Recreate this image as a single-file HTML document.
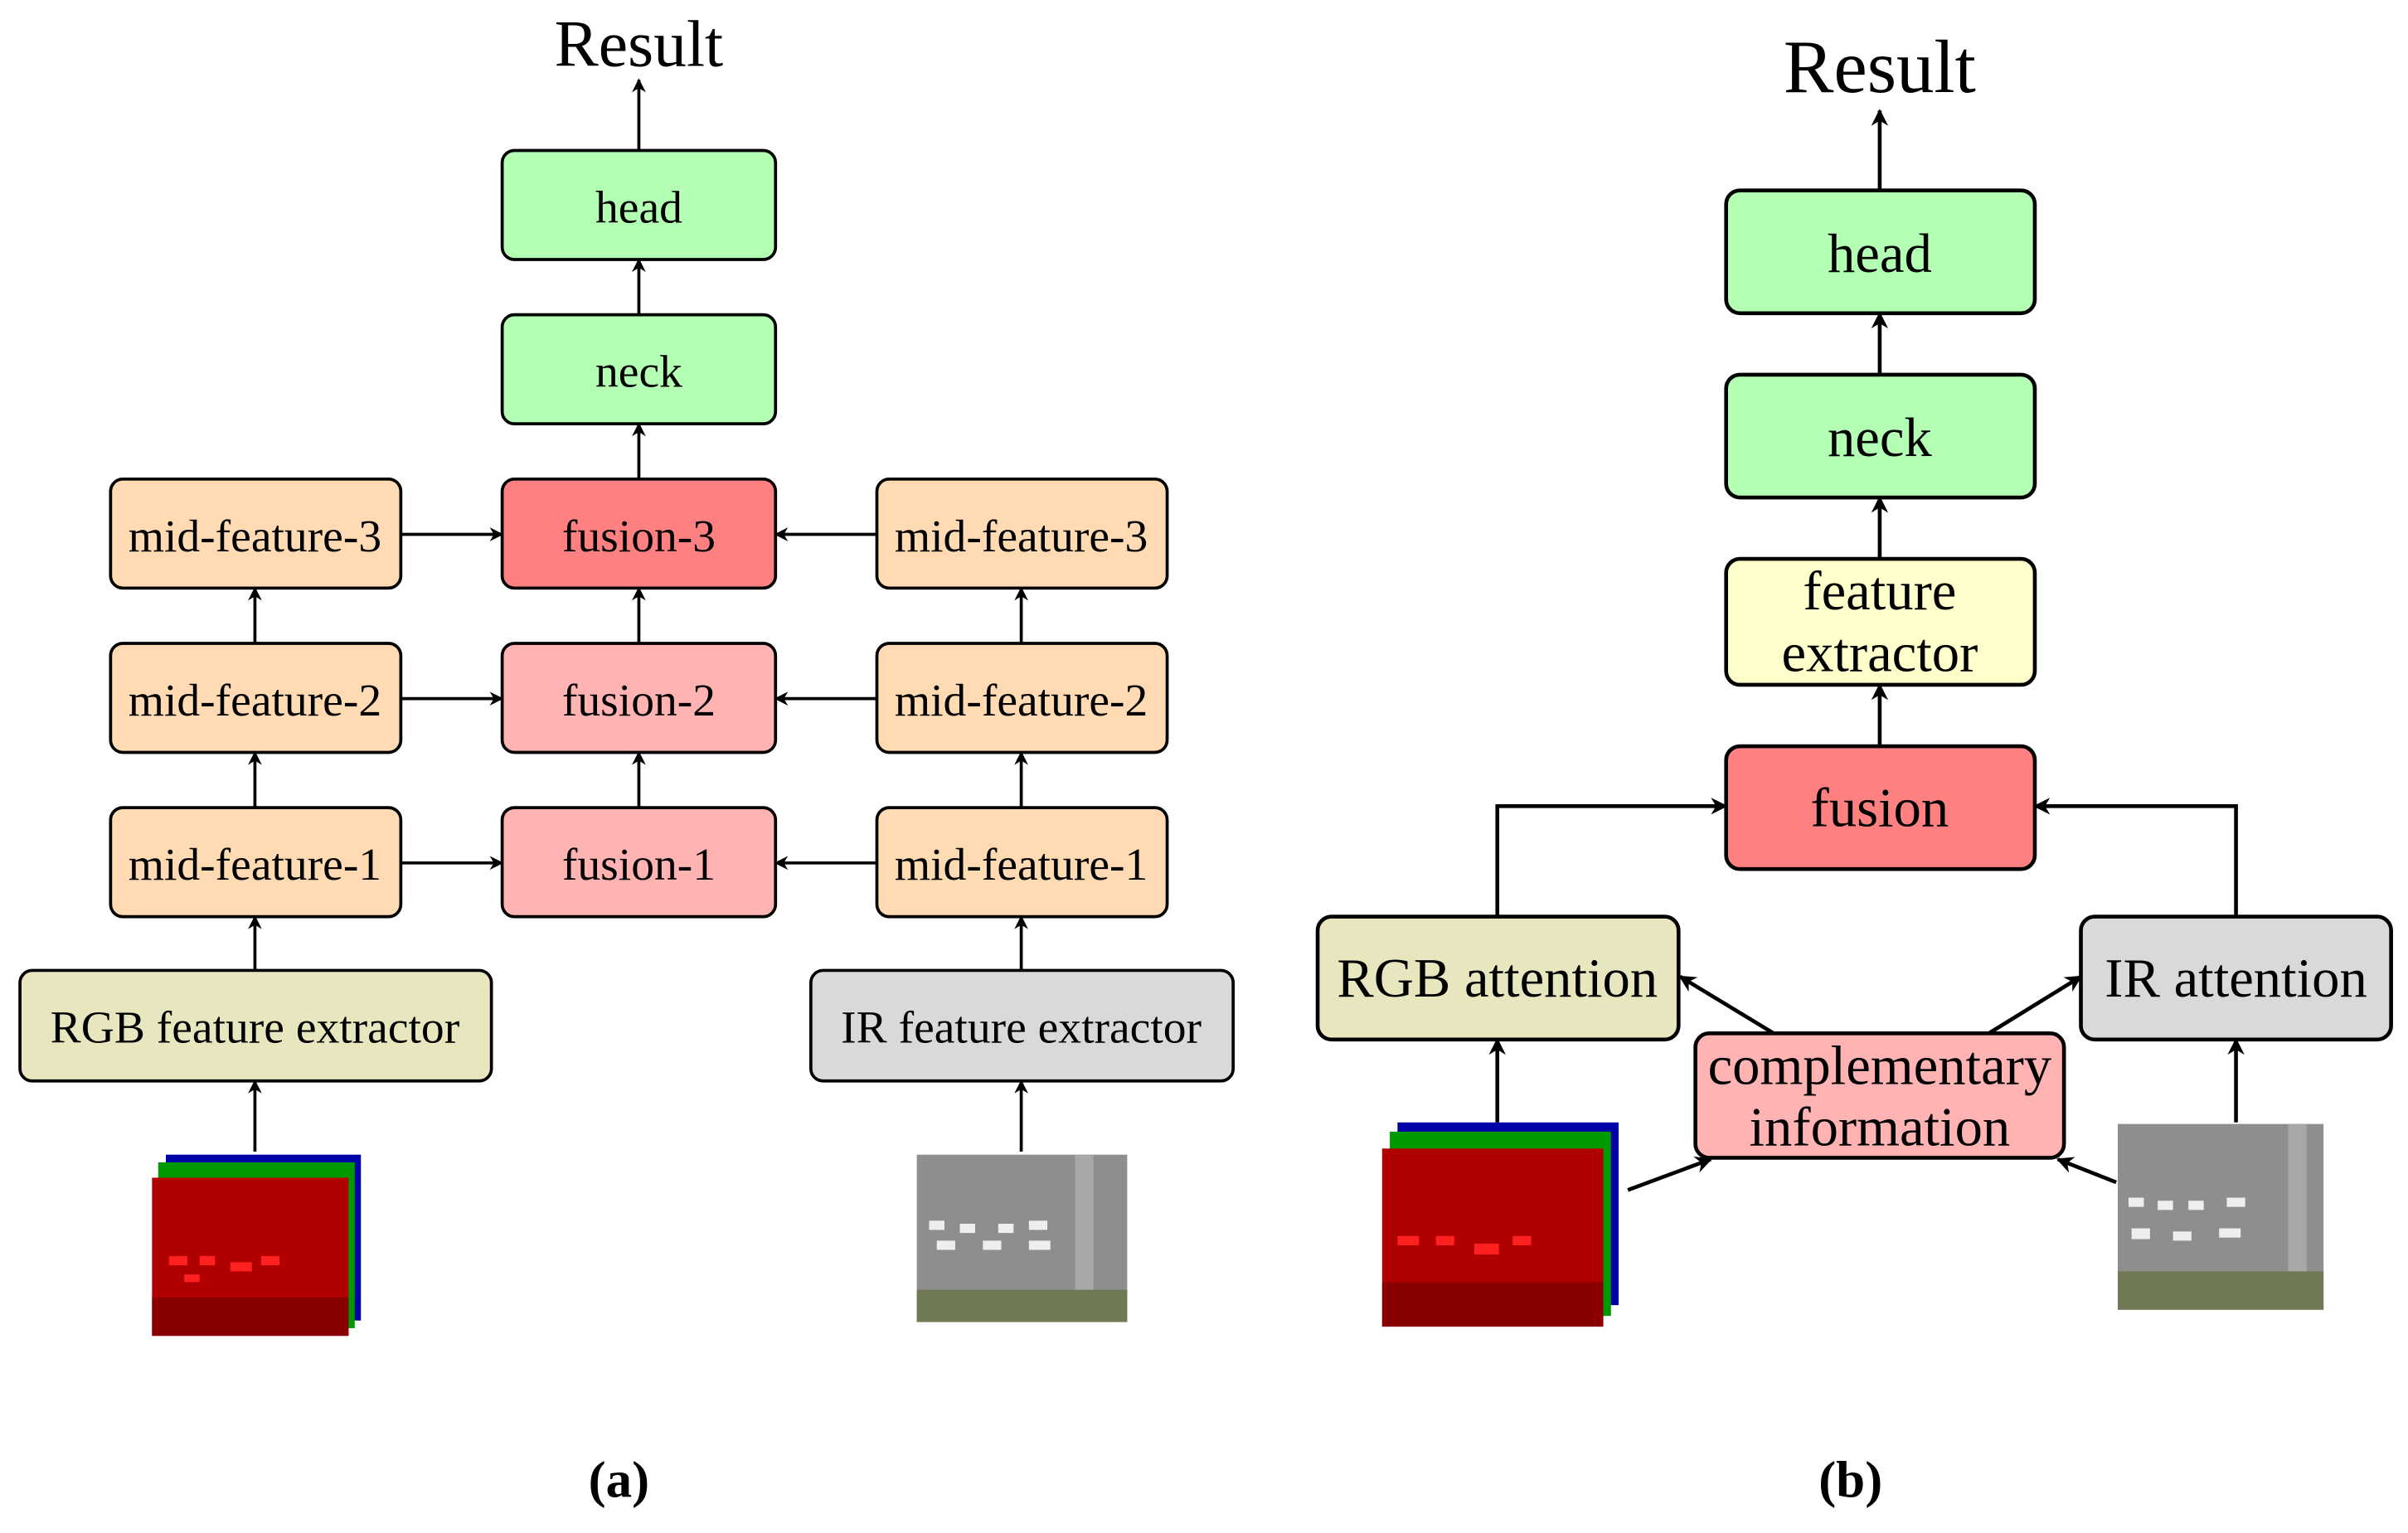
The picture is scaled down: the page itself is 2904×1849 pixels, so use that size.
<!DOCTYPE html>
<html><head><meta charset="utf-8"><style>
html,body{margin:0;padding:0;background:#fff}
svg{display:block}
text{font-family:"Liberation Serif",serif;fill:#000}
</style></head><body>
<svg width="2904" height="1849" viewBox="0 0 1568 998.4" preserveAspectRatio="none" xmlns="http://www.w3.org/2000/svg">
<defs>
<marker id="ar" viewBox="0 0 10 10" refX="9" refY="5" markerWidth="9" markerHeight="9" markerUnits="userSpaceOnUse" orient="auto">
<path d="M0,0 L10,5 L0,10 L3,5 z" fill="#000"/></marker>
<marker id="ar2" viewBox="0 0 10 10" refX="9" refY="5" markerWidth="11" markerHeight="11" markerUnits="userSpaceOnUse" orient="auto">
<path d="M0,0 L10,5 L0,10 L3,5 z" fill="#000"/></marker>
</defs>
<rect width="1568" height="998.4" fill="#fff"/>

<!-- (a) -->
<g stroke="#000" stroke-width="2">
<rect x="327" y="98" width="178" height="71" rx="8" fill="#b3ffb3"/>
<rect x="327" y="205" width="178" height="71" rx="8" fill="#b3ffb3"/>
<rect x="327" y="312" width="178" height="71" rx="8" fill="#ff8080"/>
<rect x="327" y="419" width="178" height="71" rx="8" fill="#ffb3b3"/>
<rect x="327" y="526" width="178" height="71" rx="8" fill="#ffb3b3"/>
<rect x="72" y="312" width="189" height="71" rx="8" fill="#ffdab3"/>
<rect x="72" y="419" width="189" height="71" rx="8" fill="#ffdab3"/>
<rect x="72" y="526" width="189" height="71" rx="8" fill="#ffdab3"/>
<rect x="571" y="312" width="189" height="71" rx="8" fill="#ffdab3"/>
<rect x="571" y="419" width="189" height="71" rx="8" fill="#ffdab3"/>
<rect x="571" y="526" width="189" height="71" rx="8" fill="#ffdab3"/>
<rect x="13" y="632" width="307" height="72" rx="8" fill="#e8e6bf"/>
<rect x="528" y="632" width="275" height="72" rx="8" fill="#d9d9d9"/>
</g>
<g font-size="30" text-anchor="middle">
<text x="416" y="43" font-size="43">Result</text>
<text x="416" y="145">head</text>
<text x="416" y="252">neck</text>
<text x="416" y="359">fusion-3</text>
<text x="416" y="466">fusion-2</text>
<text x="416" y="573">fusion-1</text>
<text x="166" y="359">mid-feature-3</text>
<text x="166" y="466">mid-feature-2</text>
<text x="166" y="573">mid-feature-1</text>
<text x="665" y="359">mid-feature-3</text>
<text x="665" y="466">mid-feature-2</text>
<text x="665" y="573">mid-feature-1</text>
<text x="166" y="679">RGB feature extractor</text>
<text x="665" y="679">IR feature extractor</text>
</g>
<g stroke="#000" stroke-width="2" marker-end="url(#ar)">
<line x1="416" y1="98" x2="416" y2="52"/>
<line x1="416" y1="205" x2="416" y2="169"/>
<line x1="416" y1="312" x2="416" y2="276"/>
<line x1="416" y1="419" x2="416" y2="383"/>
<line x1="416" y1="526" x2="416" y2="490"/>
<line x1="166" y1="419" x2="166" y2="383"/>
<line x1="166" y1="526" x2="166" y2="490"/>
<line x1="166" y1="632" x2="166" y2="597"/>
<line x1="665" y1="419" x2="665" y2="383"/>
<line x1="665" y1="526" x2="665" y2="490"/>
<line x1="665" y1="632" x2="665" y2="597"/>
<line x1="166" y1="750" x2="166" y2="704"/>
<line x1="665" y1="750" x2="665" y2="704"/>
<line x1="261" y1="348" x2="327" y2="348"/>
<line x1="261" y1="455" x2="327" y2="455"/>
<line x1="261" y1="562" x2="327" y2="562"/>
<line x1="571" y1="348" x2="505" y2="348"/>
<line x1="571" y1="455" x2="505" y2="455"/>
<line x1="571" y1="562" x2="505" y2="562"/>
</g>
<rect x="108" y="752" width="127" height="108" fill="#0000a8"/>
<rect x="103" y="757" width="128" height="108" fill="#009900"/>
<rect x="99" y="767" width="128" height="103" fill="#b00000"/>
<g fill="#ff2020"><rect x="110" y="818" width="12" height="6"/><rect x="130" y="818" width="10" height="6"/><rect x="150" y="822" width="14" height="6"/><rect x="170" y="818" width="12" height="6"/><rect x="120" y="830" width="10" height="5"/></g>
<rect x="99" y="845" width="128" height="25" fill="#8a0000"/>
<rect x="597" y="752" width="137" height="109" fill="#8e8e8e"/>
<g fill="#eee"><rect x="605" y="795" width="10" height="6"/><rect x="625" y="797" width="10" height="6"/><rect x="650" y="797" width="10" height="6"/><rect x="670" y="795" width="12" height="6"/><rect x="610" y="808" width="12" height="6"/><rect x="640" y="808" width="12" height="6"/><rect x="670" y="808" width="14" height="6"/></g>
<rect x="700" y="752" width="12" height="90" fill="#a8a8a8"/>
<rect x="597" y="840" width="137" height="21" fill="#6f7a55"/>
<text x="403" y="975" font-size="34" text-anchor="middle" font-weight="bold">(a)</text>

<!-- (b) -->
<g stroke="#000" stroke-width="2.5">
<rect x="1124" y="124" width="201" height="80" rx="9" fill="#b3ffb3"/>
<rect x="1124" y="244" width="201" height="80" rx="9" fill="#b3ffb3"/>
<rect x="1124" y="364" width="201" height="82" rx="9" fill="#ffffcc"/>
<rect x="1124" y="486" width="201" height="80" rx="9" fill="#ff8080"/>
<rect x="858" y="597" width="235" height="80" rx="9" fill="#e8e6bf"/>
<rect x="1355" y="597" width="202" height="80" rx="9" fill="#d9d9d9"/>
<rect x="1104" y="673" width="240" height="81" rx="9" fill="#ffb3b3"/>
</g>
<g font-size="36" text-anchor="middle">
<text x="1224" y="60" font-size="49">Result</text>
<text x="1224" y="177">head</text>
<text x="1224" y="297">neck</text>
<text x="1224" y="397">feature</text>
<text x="1224" y="437">extractor</text>
<text x="1224" y="538">fusion</text>
<text x="975" y="649">RGB attention</text>
<text x="1456" y="649">IR attention</text>
<text x="1224" y="706">complementary</text>
<text x="1224" y="746">information</text>
</g>
<g stroke="#000" stroke-width="2.5" fill="none" marker-end="url(#ar2)">
<line x1="1224" y1="124" x2="1224" y2="72"/>
<line x1="1224" y1="244" x2="1224" y2="204"/>
<line x1="1224" y1="364" x2="1224" y2="324"/>
<line x1="1224" y1="486" x2="1224" y2="446"/>
<polyline points="975,597 975,525 1124,525"/>
<polyline points="1456,597 1456,525 1325,525"/>
<line x1="1155" y1="673" x2="1094" y2="636"/>
<line x1="1295" y1="673" x2="1355" y2="636"/>
<line x1="975" y1="731" x2="975" y2="677"/>
<line x1="1456" y1="731" x2="1456" y2="677"/>
<line x1="1060" y1="775" x2="1114" y2="755"/>
<line x1="1378" y1="770" x2="1340" y2="755"/>
</g>
<rect x="910" y="731" width="144" height="119" fill="#0000a8"/>
<rect x="905" y="737" width="144" height="120" fill="#009900"/>
<rect x="900" y="748" width="144" height="116" fill="#b00000"/>
<g fill="#ff2020"><rect x="910" y="805" width="14" height="6"/><rect x="935" y="805" width="12" height="6"/><rect x="960" y="810" width="16" height="7"/><rect x="985" y="805" width="12" height="6"/></g>
<rect x="900" y="835" width="144" height="29" fill="#8a0000"/>
<rect x="1379" y="732" width="134" height="121" fill="#8e8e8e"/>
<g fill="#eee"><rect x="1386" y="780" width="10" height="6"/><rect x="1405" y="782" width="10" height="6"/><rect x="1425" y="782" width="10" height="6"/><rect x="1450" y="780" width="12" height="6"/><rect x="1388" y="800" width="12" height="7"/><rect x="1415" y="802" width="12" height="6"/><rect x="1445" y="800" width="14" height="6"/></g>
<rect x="1490" y="732" width="12" height="100" fill="#a8a8a8"/>
<rect x="1379" y="828" width="134" height="25" fill="#6f7a55"/>
<text x="1205" y="975" font-size="34" text-anchor="middle" font-weight="bold">(b)</text>
</svg>
</body></html>
